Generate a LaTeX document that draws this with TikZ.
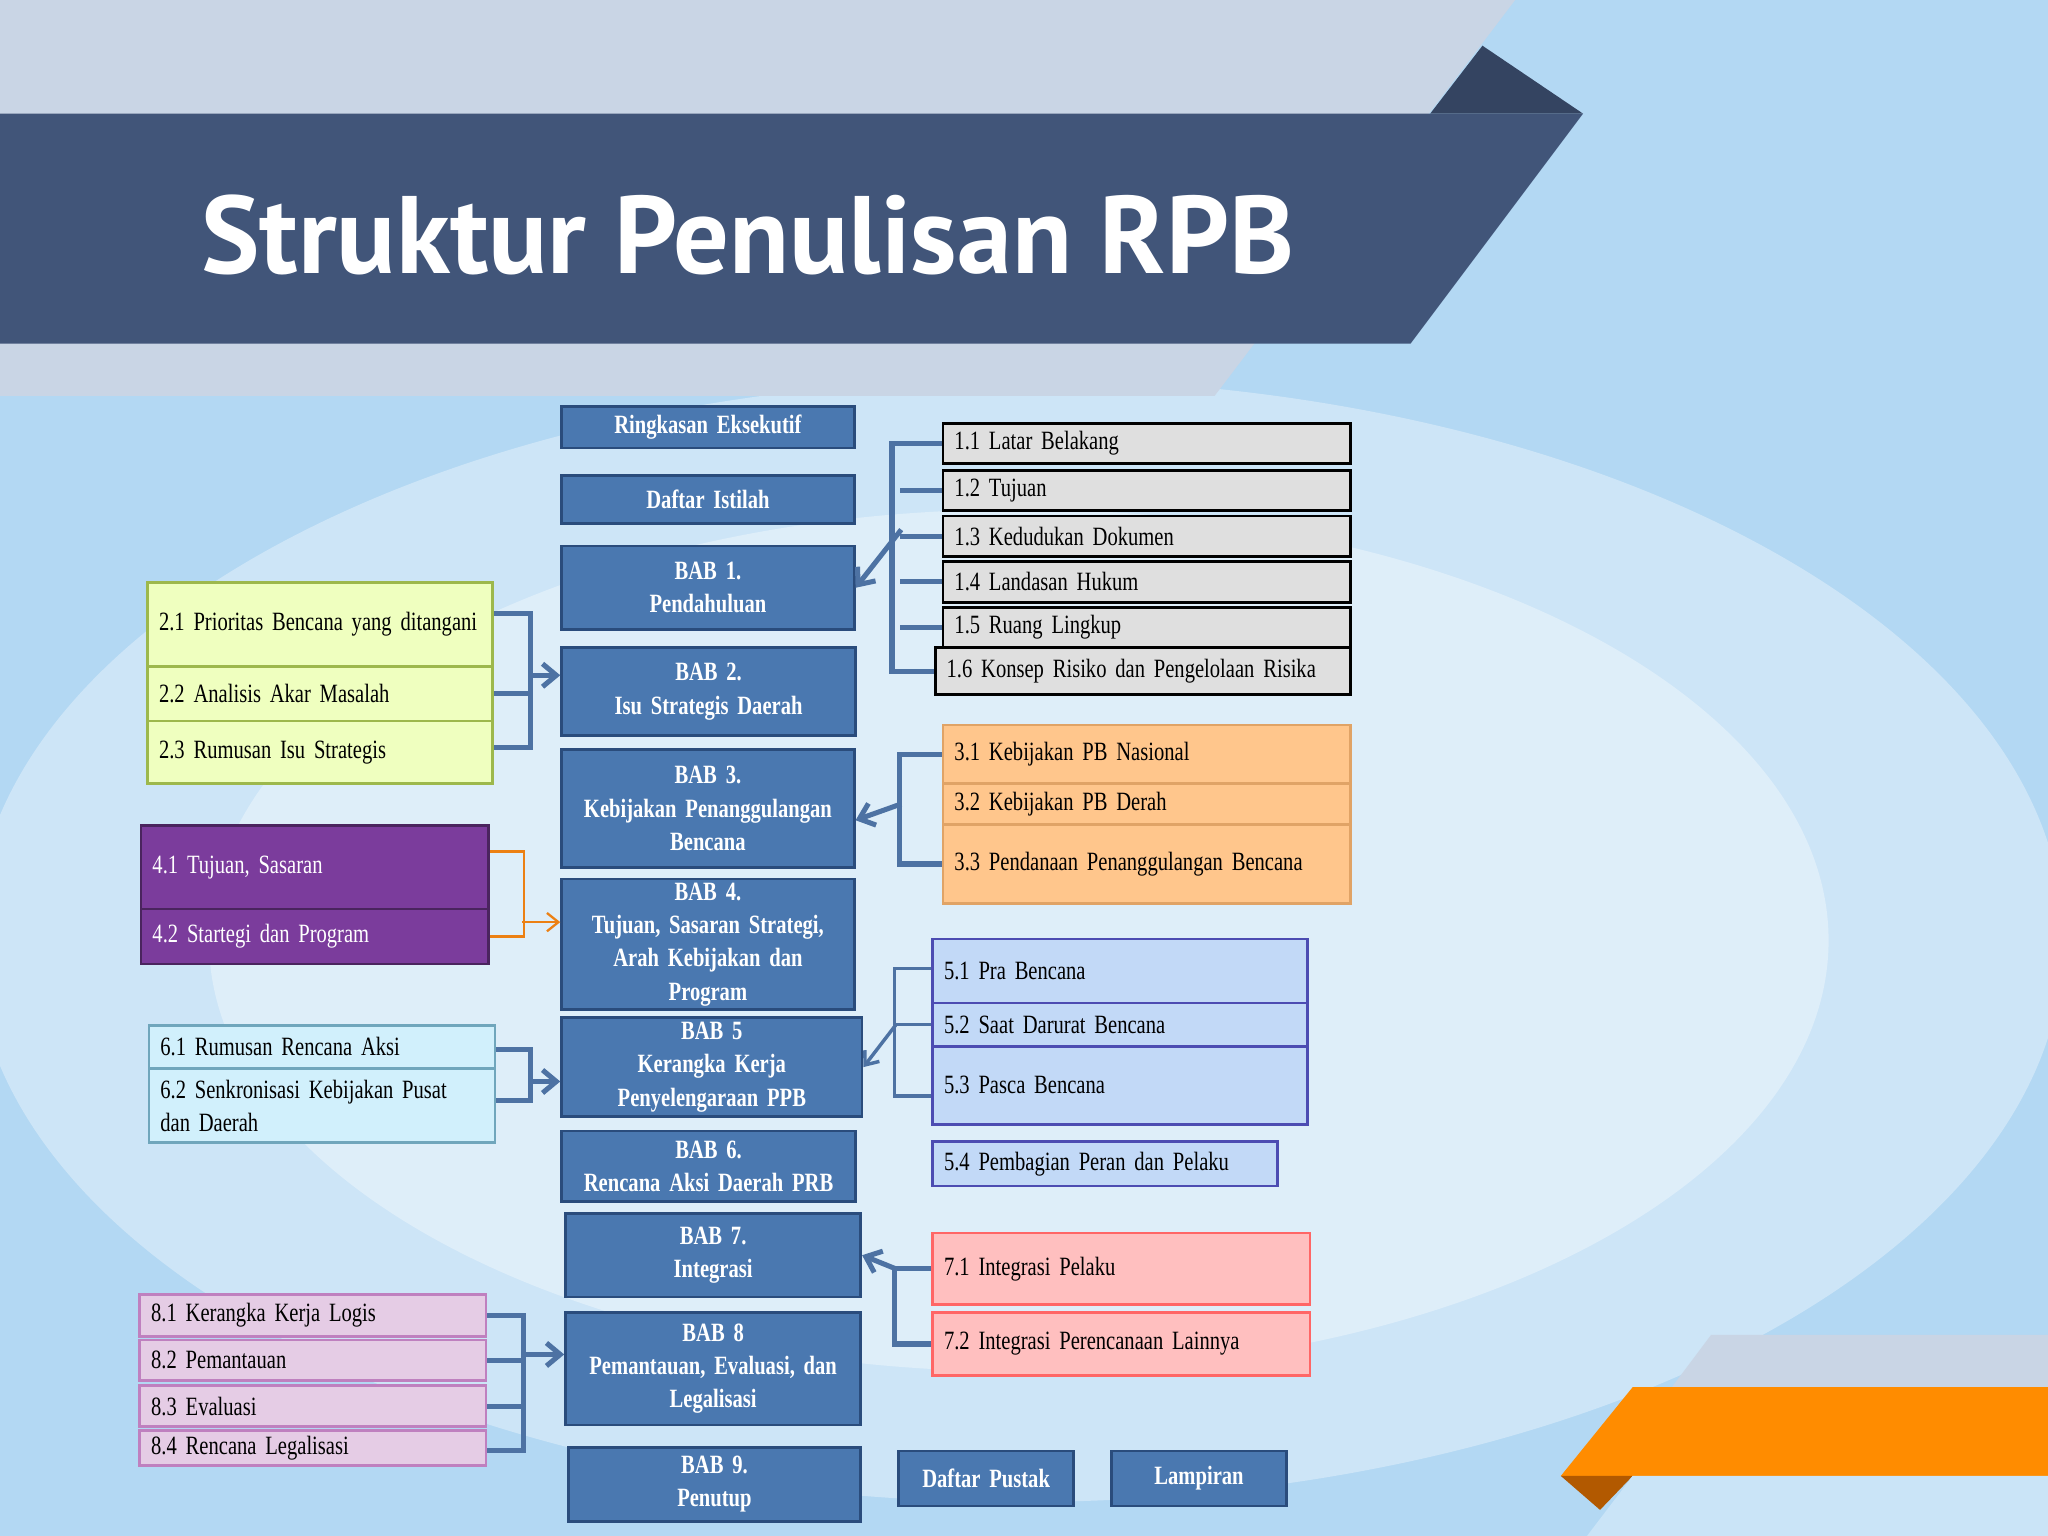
\documentclass[tikz,border=0pt]{standalone}
\usepackage{fontspec}
\setmainfont{Liberation Serif}
\newfontfamily\cond[FakeStretch=0.78,WordSpace=0.7]{Liberation Serif}
\newfontfamily\titlef{PT Sans}
\usetikzlibrary{arrows.meta}
\definecolor{bgblue}{HTML}{B3D8F3}
\definecolor{band}{HTML}{415579}
\definecolor{greyband}{HTML}{C9D5E5}
\definecolor{bfill}{HTML}{4A78B0}
\definecolor{bdraw}{HTML}{2A4C7C}
\definecolor{conn}{HTML}{4D72A3}
\definecolor{purp}{HTML}{7B3C9C}
\definecolor{lbl}{HTML}{C2D9F7}
\tikzset{
 base/.style={draw,line width=1.2pt,font=\cond\fontsize{11.5}{14.5}\selectfont},
 bluebox/.style={base,fill=bfill,draw=bdraw,text=white,align=center,font=\cond\bfseries\fontsize{11.5}{14.5}\selectfont},
 side/.style={base,align=left},
 grey/.style={side,fill=gray!25,draw=black},
 orange/.style={side,fill=orange!45,draw=orange!80!black!60},
 lblue/.style={side,fill=lbl,draw=blue!40!gray},
 red/.style={side,fill=red!25,draw=red!60},
 green/.style={side,fill=lime!25,draw=lime!60!black!70},
 purple/.style={side,fill=purp,draw=purp!60!black,text=white},
 cyanb/.style={side,fill=cyan!18,draw=cyan!60!black!70},
 pink/.style={side,fill=violet!20,draw=violet!50},
 cn/.style={draw=conn,line width=2.2pt},
 ca/.style={cn,-{Straight Barb[length=6pt,width=10pt]}},
}
\newcommand\bx[7]{\pgfmathsetmacro\w{(#4-#2)*0.02}\pgfmathsetmacro\h{(#5-#3)*0.02}\pgfmathsetmacro\tw{(#4-#2)*0.02-0.35}%
\node[#6,minimum width=\w cm,minimum height=\h cm,inner sep=0pt,text width=\tw cm] (#1) at ({(#2+#4)/2},{(#3+#5)/2}) {#7};}
\begin{document}
\begin{tikzpicture}[x=0.02cm,y=-0.02cm]
\useasboundingbox (0,0) rectangle (1568,1176);
\fill[bgblue] (0,0) rectangle (1568,1176);
\fill[white,opacity=0.35] (780,720) ellipse (800 and 430);
\fill[white,opacity=0.35] (780,720) ellipse (620 and 330);
% top bands
\fill[greyband] (0,0) -- (1160,0) -- (930,303) -- (0,303) -- cycle;
\fill[band!80!black] (1095,87) -- (1135,35) -- (1212,87) -- cycle;
\fill[band] (0,87) -- (1212,87) -- (1080,263) -- (0,263) -- cycle;
\node[anchor=west,text=white,font=\titlef\bfseries\fontsize{48}{56}\selectfont] (title) at (148,180) {Struktur Penulisan RPB};
% bottom right
\fill[greyband] (1310,1022) -- (1568,1022) -- (1568,1062) -- (1280,1062) -- cycle;
\fill[orange!90!yellow] (1250,1062) -- (1568,1062) -- (1568,1130) -- (1195,1130) -- cycle;
\fill[orange!70!black] (1195,1130) -- (1250,1130) -- (1225,1156) -- cycle;
\fill[bgblue!70!white] (1250,1130) -- (1568,1130) -- (1568,1176) -- (1215,1176) -- cycle;
% center column
\bx{re}{430}{311}{654}{343}{bluebox}{Ringkasan Eksekutif}
\bx{di}{430}{364}{654}{401}{bluebox}{Daftar Istilah}
\bx{b1}{430}{418}{654}{482}{bluebox}{BAB 1.\\Pendahuluan}
\bx{b2}{430}{496}{655}{563}{bluebox}{BAB 2.\\Isu Strategis Daerah}
\bx{b3}{430}{574}{654}{664}{bluebox}{BAB 3.\\Kebijakan Penanggulangan\\Bencana}
\bx{b4}{430}{673}{654}{773}{bluebox}{BAB 4.\\Tujuan, Sasaran Strategi,\\Arah Kebijakan dan\\Program}
\bx{b5}{430}{779}{660}{855}{bluebox}{BAB 5\\Kerangka Kerja\\Penyelengaraan PPB}
\bx{b6}{430}{866}{655}{920}{bluebox}{BAB 6.\\Rencana Aksi Daerah PRB}
\bx{b7}{433}{929}{659}{993}{bluebox}{BAB 7.\\Integrasi}
\bx{b8}{433}{1005}{659}{1091}{bluebox}{BAB 8\\Pemantauan, Evaluasi, dan\\Legalisasi}
\bx{b9}{435}{1108}{659}{1165}{bluebox}{BAB 9.\\Penutup}
\bx{dp}{688}{1111}{822}{1153}{bluebox}{Daftar Pustak}
\bx{la}{851}{1111}{985}{1153}{bluebox}{Lampiran}
% 1.x
\bx{a1}{722}{324}{1034}{355}{grey}{1.1 Latar Belakang}
\bx{a2}{722}{360}{1034}{391}{grey}{1.2 Tujuan}
\bx{a3}{722}{395}{1034}{426}{grey}{1.3 Kedudukan Dokumen}
\bx{a4}{722}{430}{1034}{461}{grey}{1.4 Landasan Hukum}
\bx{a5}{722}{465}{1034}{496}{grey}{1.5 Ruang Lingkup}
\bx{a6}{716}{496}{1034}{532}{grey}{1.6 Konsep Risiko dan Pengelolaan Risika}
\draw[cn] (a1.west) -| ([xshift=-32*0.02cm]a6.west) -- (a6.west);
\foreach \n in {a2,a3,a4,a5} \draw[cn] (\n.west) -- ++(-32,0);
\draw[ca] ([yshift=5*0.02cm]a3.west -| 690,0) -- (b1.east);
% 3.x
\bx{c1}{722}{555}{1034}{600}{orange}{3.1 Kebijakan PB Nasional}
\bx{c2}{722}{600}{1034}{631}{orange}{3.2 Kebijakan PB Derah}
\bx{c3}{722}{631}{1034}{692}{orange}{3.3 Pendanaan Penanggulangan Bencana}
\draw[cn] (c1.west) -- ++(-32,0) |- (c3.west);
\draw[ca] (c2.west -| 690,0) -- ([yshift=-9*0.02cm]b3.east);
% 5.x
\bx{e1}{714}{719}{1001}{768}{lblue}{5.1 Pra Bencana}
\bx{e2}{714}{768}{1001}{801}{lblue}{5.2 Saat Darurat Bencana}
\bx{e3}{714}{801}{1001}{861}{lblue}{5.3 Pasca Bencana}
\bx{e4}{714}{874}{978}{908}{lblue}{5.4 Pembagian Peran dan Pelaku}
\draw[cn,line width=1.5pt] ([yshift=2*0.02cm]e1.west) -- ++(-28,0) |- ([yshift=-8*0.02cm]e3.west);
\draw[cn,line width=1.5pt] (e2.west) -- ++(-28,0);
\draw[cn,line width=1.5pt,-{Straight Barb[length=5pt,width=8pt]}] (e2.west -| 686,0) -- (b5.east);
% 7.x
\bx{g1}{714}{944}{1003}{999}{red}{7.1 Integrasi Pelaku}
\bx{g2}{714}{1005}{1003}{1053}{red}{7.2 Integrasi Perencanaan Lainnya}
\draw[cn] (g1.west) -- ++(-28,0) |- (g2.west);
\draw[ca] (g1.west -| 686,0) -- (b7.east);
% 2.x
\bx{l1}{113}{446}{377}{510}{green}{2.1 Prioritas Bencana yang ditangani}
\bx{l2}{113}{510}{377}{552}{green}{2.2 Analisis Akar Masalah}
\bx{l3}{113}{552}{377}{600}{green}{2.3 Rumusan Isu Strategis}
\draw[cn] ([yshift=8*0.02cm]l1.east) -- ++(28,0) |- ([yshift=4*0.02cm]l3.east);
\draw[cn] (l2.east) -- ++(28,0);
\draw[ca] (405,517) -- (b2.west|-0,517);
% 4.x
\bx{p1}{108}{632}{374}{696}{purple}{4.1 Tujuan, Sasaran}
\bx{p2}{108}{696}{374}{738}{purple}{4.2 Startegi dan Program}
\draw[orange!70!brown,line width=1pt] ([yshift=12*0.02cm]p1.east) -- ++(26,0) |- (p2.east);
\draw[orange!70!brown,line width=1pt,-{Straight Barb[length=5pt,width=8pt]}] (400,706) -- (b4.west|-0,706);
% 6.x
\bx{q1}{114}{785}{379}{818}{cyanb}{6.1 Rumusan Rencana Aksi}
\bx{q2}{114}{818}{379}{875}{cyanb}{6.2 Senkronisasi Kebijakan Pusat\\dan Daerah}
\draw[cn] ([yshift=-2*0.02cm]q1.east) -- ++(26,0) |- ([yshift=4*0.02cm]q2.east);
\draw[ca] (405,828) -- (b5.west|-0,828);
% 8.x
\bx{r1}{107}{991}{372}{1023}{pink}{8.1 Kerangka Kerja Logis}
\bx{r2}{107}{1026}{372}{1057}{pink}{8.2 Pemantauan}
\bx{r3}{107}{1061}{372}{1092}{pink}{8.3 Evaluasi}
\bx{r4}{107}{1095}{372}{1122}{pink}{8.4 Rencana Legalisasi}
\draw[cn] (r1.east) -- ++(28,0) |- ([yshift=-2*0.02cm]r4.east);
\draw[cn] (r2.east) -- ++(28,0);
\draw[cn] (r3.east) -- ++(28,0);
\draw[ca] (400,1037) -- (b8.west|-0,1037);
\end{tikzpicture}
\end{document}
